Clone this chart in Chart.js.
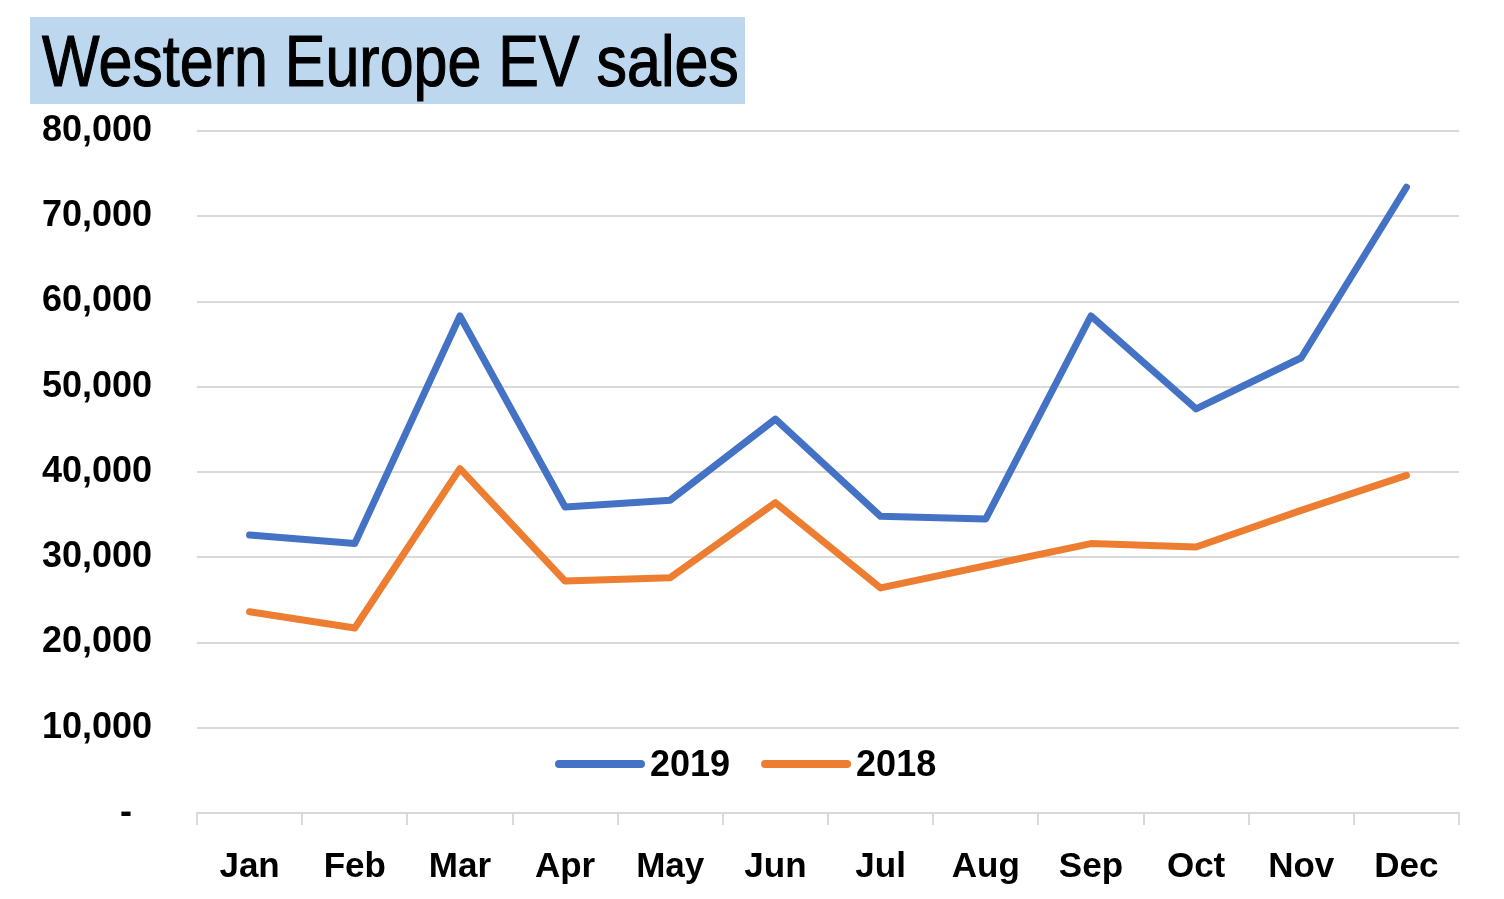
<!DOCTYPE html>
<html>
<head>
<meta charset="utf-8">
<script src="https://cdn.jsdelivr.net/npm/chart.js@4.4.1/dist/chart.umd.min.js"></script>
<style>
    html, body { margin: 0; padding: 0; background: #ffffff; }
    #wrap { position: relative; width: 1504px; height: 899px; }
    #title {
        position: absolute; left: 30px; top: 17px; width: 715px; height: 87px;
        background: #bdd7ee;
    }
    #title span {
        position: absolute; left: 12px; top: 4px;
        font-family: "Liberation Sans", Arial, sans-serif; font-size: 73px; line-height: 80px;
        color: #000; white-space: nowrap; -webkit-text-stroke: 1.2px #000;
        transform-origin: 0 0; transform: scaleX(0.835);
    }
</style>
</head>
<body>
<div id="wrap">
    <canvas id="lineChart" width="1504" height="899"></canvas>
    <div id="title"><span>Western Europe EV sales</span></div>
</div>
<script>
// Chart data
const months = ["Jan","Feb","Mar","Apr","May","Jun","Jul","Aug","Sep","Oct","Nov","Dec"];
const sales2019 = [32600, 31600, 58300, 35900, 36700, 46200, 34800, 34500, 58300, 47400, 53400, 73400];
const sales2018 = [23600, 21700, 40400, 27200, 27600, 36400, 26400, 29000, 31600, 31200, 35500, 39600];
const yTicks = ["-  ", "10,000", "20,000", "30,000", "40,000", "50,000", "60,000", "70,000", "80,000"];

const FONT = "'Liberation Sans', Arial, sans-serif";

/* legend drawn inside the plot area */
const innerLegend = {
    id: "innerLegend",
    afterDraw(chart, args, opts) {
        const ctx = chart.ctx;
        ctx.save();
        ctx.font = "bold 36px " + FONT;
        ctx.textBaseline = "middle";
        let x = opts.x;
        chart.data.datasets.forEach(ds => {
            ctx.strokeStyle = ds.borderColor;
            ctx.lineWidth = 8;
            ctx.lineCap = "round";
            ctx.beginPath();
            ctx.moveTo(x + 4, opts.y);
            ctx.lineTo(x + 86, opts.y);
            ctx.stroke();
            ctx.fillStyle = "#000";
            ctx.fillText(ds.label, x + 95, opts.y + 2);
            x += 95 + ctx.measureText(ds.label).width + 31;
        });
        ctx.restore();
    }
};

new Chart(document.getElementById("lineChart"), {
    type: "line",
    data: {
        labels: months,
        datasets: [
            { label: "2019", data: sales2019, borderColor: "#4472c4", borderWidth: 7 },
            { label: "2018", data: sales2018, borderColor: "#ed7d31", borderWidth: 7 }
        ]
    },
    plugins: [innerLegend],
    options: {
        responsive: false,
        animation: false,
        layout: { padding: { left: 0, right: 45, top: 131, bottom: 0 } },
        elements: {
            point: { radius: 0 },
            line: { tension: 0, borderJoinStyle: "round", borderCapStyle: "round" }
        },
        plugins: {
            legend: { display: false },
            tooltip: { enabled: false },
            innerLegend: { x: 555, y: 764 }
        },
        scales: {
            x: {
                offset: true,
                grid: { offset: true, drawOnChartArea: false, drawTicks: true, tickLength: 12, color: "#d9d9d9", lineWidth: 2 },
                border: { color: "#d9d9d9", width: 2 },
                ticks: { color: "#000", font: { family: FONT, size: 35, weight: "bold" }, padding: 21, maxRotation: 0 },
                afterFit(scale) { scale.height = 899 - 813; }
            },
            y: {
                min: 0,
                max: 80000,
                grid: { color: "#d9d9d9", lineWidth: 2, drawTicks: false },
                border: { display: false },
                ticks: {
                    stepSize: 10000,
                    color: "#000",
                    padding: 45,
                    font: { family: FONT, size: 36, weight: "bold" },
                    callback: (v, i) => yTicks[i]
                },
                afterFit(scale) { scale.width = 197; }
            }
        }
    }
});
</script>
</body>
</html>
